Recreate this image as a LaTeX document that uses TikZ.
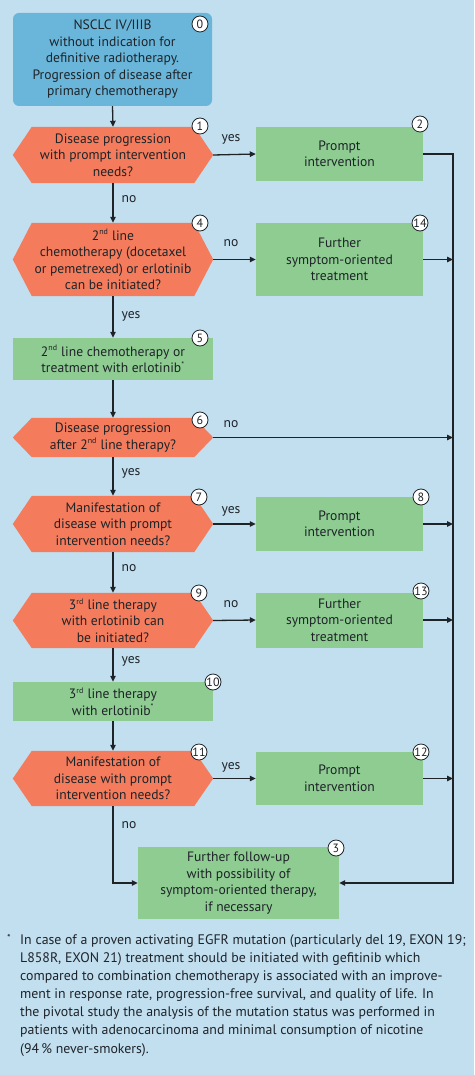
\documentclass[tikz,border=0pt]{standalone}
\usepackage{fontspec}
\setmainfont{PT Sans}
\usetikzlibrary{arrows.meta}
\definecolor{bgc}{HTML}{C2DFF0}
\definecolor{bluebox}{HTML}{6AB6DA}
\definecolor{orangebox}{HTML}{F47C5C}
\definecolor{greenbox}{HTML}{8ECC92}
\definecolor{ink}{HTML}{1E2328}
\pgfdeclarelayer{bglayer}
\pgfdeclarelayer{hexlayer}
\pgfsetlayers{bglayer,hexlayer,main}
\newcommand{\hexfill}[1]{%
  \begin{pgfonlayer}{hexlayer}
    \fill[orangebox] ([xshift=-19pt]#1.west) -- (#1.north west) -- (#1.north east)
      -- ([xshift=19pt]#1.east) -- (#1.south east) -- (#1.south west) -- cycle;
  \end{pgfonlayer}}
\newcommand{\sups}[1]{\textsuperscript{\fontsize{8}{8}\selectfont #1}}
\begin{document}
\begin{tikzpicture}[x=1pt,y=-1pt,
  txt/.style={font=\fontsize{13.6}{16.5}\selectfont, align=center, text=ink, inner sep=0pt},
  gbox/.style={txt, fill=greenbox, minimum width=167pt, minimum height=#1},
  lbox/.style={txt, fill=greenbox, minimum width=200pt, minimum height=#1},
  hexbox/.style={txt, minimum width=162pt, minimum height=#1},
  num/.style={circle, draw=ink, fill=white, line width=0.8pt, minimum size=16pt, inner sep=0pt, text=ink, font=\fontsize{12}{12}\selectfont},
  lbl/.style={font=\fontsize{13.6}{14}\selectfont, text=ink, inner sep=0pt},
  arr/.style={draw=ink, line width=1.3pt, -{Triangle[length=6pt,width=5.5pt]}},
  ln/.style={draw=ink, line width=1.3pt}]
\begin{pgfonlayer}{bglayer}
  \fill[bgc] (0,0) rectangle (474,1075);
\end{pgfonlayer}
\useasboundingbox (0,0) rectangle (474,1075);

% nodes
\node[txt, fill=bluebox, rounded corners=6pt, minimum width=199pt, minimum height=93pt] (b0) at (112.5,59.5)
  {NSCLC IV/IIIB\\without indication for\\definitive radiotherapy.\\Progression of disease after\\primary chemotherapy};
\node[hexbox=56pt] (h1) at (113,155) {Disease progression\\with prompt intervention\\needs?};
\hexfill{h1}
\node[gbox=54pt] (b2) at (339.5,154) {Prompt\\intervention};
\node[hexbox=73pt] (h4) at (113,259.5) {2\sups{nd} line\\chemotherapy (docetaxel\\or pemetrexed) or erlotinib\\can be initiated?};
\hexfill{h4}
\node[gbox=72pt] (b14) at (339.5,259.5) {Further\\symptom-oriented\\treatment};
\node[lbox=42pt] (b5) at (113,359) {2\sups{nd} line chemotherapy or\\treatment with erlotinib\sups{*}};
\node[hexbox=39pt] (h6) at (113,437.5) {Disease progression\\after 2\sups{nd} line therapy?};
\hexfill{h6}
\node[hexbox=56pt] (h7) at (113,524) {Manifestation of\\disease with prompt\\intervention needs?};
\hexfill{h7}
\node[gbox=54pt] (b8) at (339.5,524) {Prompt\\intervention};
\node[hexbox=55pt] (h9) at (113,620.5) {3\sups{rd} line therapy\\with erlotinib can\\be initiated?};
\hexfill{h9}
\node[gbox=55pt] (b13) at (339.5,620) {Further\\symptom-oriented\\treatment};
\node[lbox=39pt] (b10) at (113,701.5) {3\sups{rd} line therapy\\with erlotinib\sups{*}};
\node[hexbox=55pt] (h11) at (113,778.5) {Manifestation of\\disease with prompt\\intervention needs?};
\hexfill{h11}
\node[gbox=53pt] (b12) at (339.5,778.5) {Prompt\\intervention};
\node[txt, fill=greenbox, minimum width=201pt, minimum height=72pt] (b3) at (238.5,883)
  {Further follow-up\\with possibility of\\symptom-oriented therapy,\\if necessary};

% number circles
\node[num] (c0) at (200,24) {0};
\node[num] (c1) at (200,126) {1};
\node[num] (c2) at (420,124) {2};
\node[num] (c4) at (200,223) {4};
\node[num] (c14) at (420,223) {14};
\node[num] (c5) at (200,338) {5};
\node[num] (c6) at (200,420) {6};
\node[num] (c7) at (199,497) {7};
\node[num] (c8) at (421,497) {8};
\node[num] (c9) at (199,593) {9};
\node[num] (c13) at (421,591) {13};
\node[num] (c10) at (213,682) {10};
\node[num] (c11) at (199,752) {11};
\node[num] (c12) at (421,752) {12};
\node[num] (c3) at (336,848) {3};

% rail
\coordinate (rail) at (453,155);
\coordinate (h1r) at ([xshift=19pt]h1.east);
\coordinate (h4r) at ([xshift=19pt]h4.east);
\coordinate (h6r) at ([xshift=19pt]h6.east);
\coordinate (h7r) at ([xshift=19pt]h7.east);
\coordinate (h9r) at ([xshift=19pt]h9.east);
\coordinate (h11r) at ([xshift=19pt]h11.east);

% connectors
\draw[arr] (b0.south) -- (h1.north);
\draw[arr] (h1.south) -- (h4.north);
\draw[arr] (h4.south) -- (b5.north);
\draw[arr] (b5.south) -- (h6.north);
\draw[arr] (h6.south) -- (h7.north);
\draw[arr] (h7.south) -- (h9.north);
\draw[arr] (h9.south) -- (b10.north);
\draw[arr] (b10.south) -- (h11.north);
\draw[arr] (h11.south) |- (b3.west);

\draw[arr] (h1r) -- (b2.west);
\draw[arr] (h4r) -- (b14.west);
\draw[arr] (h7r) -- (b8.west);
\draw[arr] (h9r) -- (b13.west);
\draw[arr] (h11r) -- (b12.west);

\draw[arr] (b2.east) -- (b2.east -| rail) -- (b3.east -| rail) -- (b3.east);
\draw[arr] (b14.east) -- (b14.east -| rail);
\draw[arr] (h6r) -- (h6r -| rail);
\draw[arr] (b8.east) -- (b8.east -| rail);
\draw[arr] (b13.east) -- (b13.east -| rail);
\draw[arr] (b12.east) -- (b12.east -| rail);

% labels
\node[lbl] (l1y) at (231,139) {yes};
\node[lbl] (l1n) at (129,199) {no};
\node[lbl] (l4n) at (231,243) {no};
\node[lbl] (l4y) at (131,316) {yes};
\node[lbl] (l6n) at (231,424) {no};
\node[lbl] (l6y) at (131,473) {yes};
\node[lbl] (l7y) at (231,511) {yes};
\node[lbl] (l7n) at (129,568) {no};
\node[lbl] (l9n) at (231,604) {no};
\node[lbl] (l9y) at (131,661) {yes};
\node[lbl] (l11y) at (231,767) {yes};
\node[lbl] (l11n) at (129,825) {no};

% footnote
\node[text=ink, inner sep=0pt, font=\fontsize{10}{10}\selectfont] (star) at (9,938) {*};
\node[anchor=north west, align=left, text=ink, inner sep=0pt, font=\fontsize{13.85}{18.17}\selectfont] (fn) at (20,934)
{In case of a proven activating EGFR mutation (particularly del 19, EXON 19;\\
L858R, EXON 21) treatment should be initiated with gefitinib which\\
compared to combination chemotherapy is associated with an improve-\\
ment in response rate, progression-free survival, and quality of life. In\\
the pivotal study the analysis of the mutation status was performed in\\
patients with adenocarcinoma and minimal consumption of nicotine\\
(94\,\% never-smokers).};
\end{tikzpicture}
\end{document}
